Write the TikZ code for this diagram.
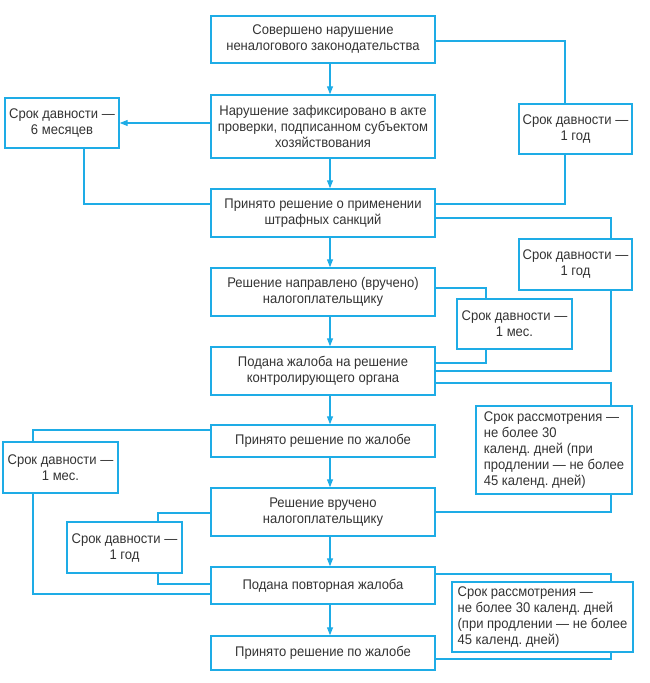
\documentclass[tikz,border=0pt]{standalone}
\usepackage{fontspec}
\setmainfont{Liberation Sans}[FakeStretch=0.93]
\usetikzlibrary{arrows.meta}
\definecolor{lc}{HTML}{1EACE6}
\definecolor{tc}{HTML}{333333}
\tikzset{
  box/.style={draw=lc, line width=1.4pt, inner sep=0pt, align=center, text=tc,
    font=\frenchspacing\fontsize{14}{16}\selectfont},
  lbox/.style={box, align=left},
  con/.style={draw=lc, line width=1.2pt},
  arr/.style={con, -{Triangle[length=8pt,width=6pt]}},
}
\begin{document}
\begin{tikzpicture}[x=1pt,y=-1pt]
\useasboundingbox (0,0) rectangle (650,683);
% main chain
\node[box, minimum width=224pt, minimum height=47pt] (m1) at (323,39.5) {Совершено нарушение\\неналогового законодательства};
\node[box, minimum width=224pt, minimum height=63pt] (m2) at (323,126.5) {Нарушение зафиксировано в акте\\проверки, подписанном субъектом\\хозяйствования};
\node[box, minimum width=224pt, minimum height=48pt] (m3) at (323,213) {Принято решение о применении\\штрафных санкций};
\node[box, minimum width=224pt, minimum height=48pt] (m4) at (323,292) {Решение направлено (вручено)\\налогоплательщику};
\node[box, minimum width=224pt, minimum height=48pt] (m5) at (323,371) {Подана жалоба на решение\\контролирующего органа};
\node[box, minimum width=224pt, minimum height=32pt] (m6) at (323,441) {Принято решение по жалобе};
\node[box, minimum width=224pt, minimum height=48pt] (m7) at (323,512) {Решение вручено\\налогоплательщику};
\node[box, minimum width=224pt, minimum height=37pt] (m8) at (323,585.5) {Подана повторная жалоба};
\node[box, minimum width=224pt, minimum height=34pt] (m9) at (323,653) {Принято решение по жалобе};
% side boxes
\node[box, minimum width=114pt, minimum height=50pt] (s6m) at (62,123) {Срок давности —\\6 месяцев};
\node[box, minimum width=113pt, minimum height=50pt] (sya) at (575.5,129) {Срок давности —\\1 год};
\node[box, minimum width=113pt, minimum height=51pt] (syb) at (575.5,264.5) {Срок давности —\\1 год};
\node[box, minimum width=115pt, minimum height=50pt] (sma) at (514.5,324) {Срок давности —\\1 мес.};
\node[lbox, minimum width=156pt, minimum height=88pt] (sra) at (554,450) {Срок рассмотрения —\\не более 30\\календ. дней (при\\продлении — не более\\45 календ. дней)};
\node[box, minimum width=115pt, minimum height=51pt] (smb) at (60.5,467.5) {Срок давности —\\1 мес.};
\node[box, minimum width=115pt, minimum height=51pt] (syc) at (124.5,547.5) {Срок давности —\\1 год};
\node[lbox, minimum width=181pt, minimum height=70pt] (srb) at (542.5,617) {Срок рассмотрения —\\не более 30 календ. дней\\(при продлении — не более\\45 календ. дней)};
% chain arrows
\draw[arr] (m1.south -| 330,0) -- (m2.north -| 330,0);
\draw[arr] (m2.south -| 330,0) -- (m3.north -| 330,0);
\draw[arr] (m3.south -| 330,0) -- (m4.north -| 330,0);
\draw[arr] (m4.south -| 330,0) -- (m5.north -| 330,0);
\draw[arr] (m5.south -| 330,0) -- (m6.north -| 330,0);
\draw[arr] (m6.south -| 330,0) -- (m7.north -| 330,0);
\draw[arr] (m7.south -| 330,0) -- (m8.north -| 330,0);
\draw[arr] (m8.south -| 330,0) -- (m9.north -| 330,0);
% side connectors
\draw[arr] (m2.west |- 0,123) -- (s6m.east |- 0,123);
\draw[con] (s6m.south -| 84,0) |- (m3.west |- 0,204);
\draw[con] (m1.east |- 0,41) -| (sya.north -| 565,0);
\draw[con] (sya.south -| 565,0) |- (m3.east |- 0,204);
\draw[con] (m3.east |- 0,218) -| (syb.north -| 611,0);
\draw[con] (syb.south -| 611,0) |- (m5.east |- 0,371);
\draw[con] (m4.east |- 0,288) -| (sma.north -| 486,0);
\draw[con] (sma.south -| 486,0) |- (m5.east |- 0,363);
\draw[con] (m5.east |- 0,383) -| (sra.north -| 611,0);
\draw[con] (sra.south -| 611,0) |- (m7.east |- 0,512);
\draw[con] (m6.west |- 0,430) -| (smb.north -| 33,0);
\draw[con] (smb.south -| 33,0) |- (m8.west |- 0,594);
\draw[con] (m7.west |- 0,513) -| (syc.north -| 158,0);
\draw[con] (syc.south -| 158,0) |- (m8.west |- 0,584);
\draw[con] (m8.east |- 0,574) -| (srb.north -| 611,0);
\draw[con] (srb.south -| 611,0) |- (m9.east |- 0,659);
\end{tikzpicture}
\end{document}
